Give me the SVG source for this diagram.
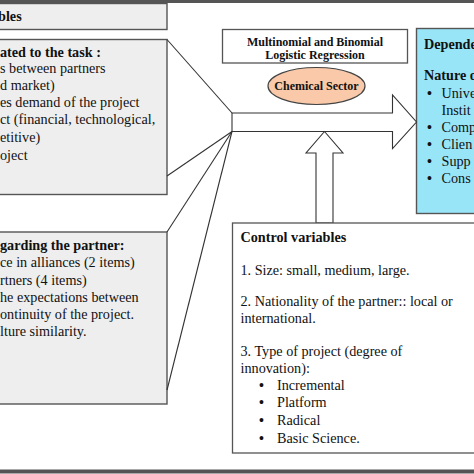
<svg xmlns="http://www.w3.org/2000/svg" width="474" height="474" viewBox="0 0 474 474">
<style>
text{font-family:"Liberation Serif","Times New Roman",serif;fill:#111}
.b{font-weight:bold}
.box{fill:#eeeeee;stroke:#555;stroke-width:1.4}
.wbox{fill:#ffffff;stroke:#555;stroke-width:1.3}
.ln{fill:none;stroke:#333;stroke-width:1.1}
.t13{font-size:14.2px}
.t11{font-size:12px}
.bu{font-size:14px;font-weight:bold}
</style>
<rect width="474" height="474" fill="#fff"/>
<line x1="0" y1="1.5" x2="474" y2="1.5" stroke="#555" stroke-width="3"/>
<line x1="0" y1="471.5" x2="474" y2="471.5" stroke="#555" stroke-width="4"/>

<g id="title-box">
<rect class="box" x="-5" y="3.5" width="172" height="26"/>
<text class="b t13" x="-2" y="21">bles</text>
</g>

<g id="task-box">
<rect class="box" x="-5" y="39.5" width="172" height="155"/>
<text class="b t13" x="0" y="56.5">ated to the task :</text>
<text class="t13" x="0" y="73">s between partners</text>
<text class="t13" x="0" y="90">d market)</text>
<text class="t13" x="0" y="107">es demand of the project</text>
<text class="t13" x="0" y="124">ct (financial, technological,</text>
<text class="t13" x="0" y="141.5">etitive)</text>
<text class="t13" x="0" y="159.5">oject</text>
</g>

<g id="partner-box">
<rect class="box" x="-5" y="232" width="172" height="172"/>
<text class="b t13" x="0" y="249.5">garding the partner:</text>
<text class="t13" x="0" y="266.5">ce in alliances (2 items)</text>
<text class="t13" x="0" y="285">rtners (4 items)</text>
<text class="t13" x="0" y="301.5">he expectations between</text>
<text class="t13" x="0" y="319">ontinuity of the project.</text>
<text class="t13" x="0" y="336">lture similarity.</text>
</g>

<g id="regression-box">
<rect class="wbox" x="222.5" y="29.5" width="185" height="33.5"/>
<text class="b t11" x="315" y="45.5" text-anchor="middle">Multinomial and Binomial</text>
<text class="b t11" x="315" y="59" text-anchor="middle">Logistic Regression</text>
</g>

<g id="sector">
<ellipse cx="316.5" cy="86" rx="48.5" ry="18.5" fill="#f9c9a9" stroke="#444" stroke-width="1.2"/>
<text class="b t11" x="316.5" y="90" text-anchor="middle">Chemical Sector</text>
</g>

<g id="dependent-box">
<rect x="416.5" y="28.5" width="70" height="185" fill="#99e5f8" stroke="#555" stroke-width="1.4"/>
<text class="b t13" x="424" y="49">Depende</text>
<text class="b t13" x="424" y="80">Nature o</text>
<g class="t13">
<text class="bu" x="427" y="98">•</text><text x="441.5" y="98">Unive</text>
<text x="441.5" y="115">Instit</text>
<text class="bu" x="427" y="132">•</text><text x="441.5" y="132">Comp</text>
<text class="bu" x="427" y="149">•</text><text x="441.5" y="149">Clien</text>
<text class="bu" x="427" y="166">•</text><text x="441.5" y="166">Supp</text>
<text class="bu" x="427" y="183">•</text><text x="441.5" y="183">Cons</text>
</g>
</g>

<g id="connectors">
<polygon class="ln" style="fill:#fff" points="232,113 392.5,113 392.5,95 416.5,122 392.5,148.5 392.5,131.5 232,131.5"/>
<line class="ln" x1="167" y1="39.5" x2="232" y2="113"/>
<line class="ln" x1="232" y1="131.5" x2="167" y2="176"/>
<line class="ln" x1="232" y1="131.5" x2="167" y2="232"/>
<line class="ln" x1="232" y1="131.5" x2="167" y2="390"/>
<polygon class="ln" style="fill:#fff" points="316,223 316,153 306,153 324.5,131.5 343,153 333,153 333,223"/>
</g>

<g id="control-box">
<rect class="wbox" x="232.5" y="223" width="260" height="230"/>
<text class="b t13" x="240.5" y="241.5">Control variables</text>
<text class="t13" x="240.5" y="274.5">1. Size: small, medium, large.</text>
<text class="t13" x="240.5" y="306">2. Nationality of the partner:: local or</text>
<text class="t13" x="240.5" y="323">international.</text>
<text class="t13" x="240.5" y="356">3. Type of project (degree of</text>
<text class="t13" x="240.5" y="373">innovation):</text>
<text class="bu" x="259" y="389.5">•</text><text class="t13" x="277" y="389.5">Incremental</text>
<text class="bu" x="259" y="407">•</text><text class="t13" x="277" y="407">Platform</text>
<text class="bu" x="259" y="424.5">•</text><text class="t13" x="277" y="424.5">Radical</text>
<text class="bu" x="259" y="442.5">•</text><text class="t13" x="277" y="442.5">Basic Science.</text>
</g>
</svg>
